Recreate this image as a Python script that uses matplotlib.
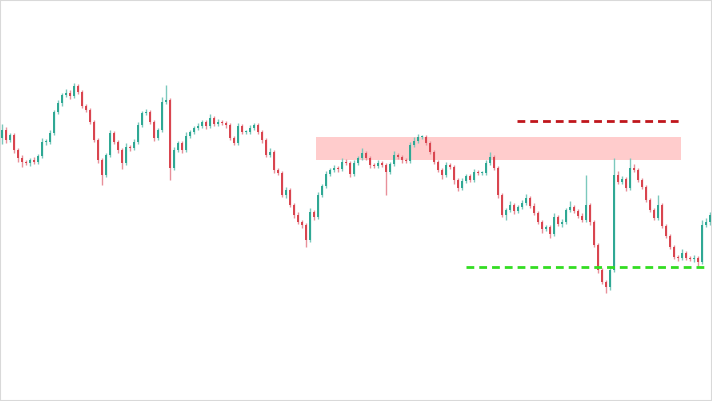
import matplotlib.pyplot as plt
import numpy as np

# closing prices, one candle every ~4 px (price points)
closes = [
    270, 260, 265, 250, 242, 238, 237, 240, 238, 244, 258, 258,
    267, 288, 297, 305, 307, 304, 314, 308, 294, 290, 278, 260,
    240, 225, 245, 267, 258, 250, 237, 253, 252, 258, 275, 287,
    288, 278, 262, 270, 298, 300, 232, 250, 257, 250, 264, 268,
    272, 274, 278, 274, 282, 276, 278, 277, 275, 262, 257, 274,
    268, 268, 272, 275, 268, 260, 245, 248, 230, 227, 205, 210,
    195, 185, 178, 175, 160, 188, 183, 205, 214, 226, 230, 232,
    231, 238, 237, 226, 237, 242, 247, 242, 235, 234, 237, 235,
    228, 236, 245, 243, 240, 239, 255, 259, 263, 263, 257, 248,
    238, 230, 225, 235, 233, 220, 212, 219, 224, 220, 228, 227,
    227, 237, 243, 232, 205, 185, 190, 195, 189, 193, 197, 202,
    194, 187, 178, 171, 173, 166, 183, 176, 178, 190, 193, 189,
    184, 180, 195, 178, 155, 130, 118, 113, 130, 225, 218, 221,
    212, 232, 230, 220, 213, 200, 190, 182, 195, 174, 164, 153,
    143, 142, 147, 142, 141, 142, 138, 175, 178, 185,
]
first_open = 262

# wick lengths beyond the candle body
upper_wick = [
    6, 3, 2, 2, 2, 3, 2, 2, 3, 2, 4, 3,
    3, 2, 3, 2, 4, 3, 3, 2, 2, 2, 2, 2,
    2, 2, 2, 3, 2, 2, 2, 4, 2, 3, 3, 2,
    3, 2, 2, 2, 5, 15, 2, 3, 2, 2, 4, 2,
    2, 3, 2, 2, 4, 2, 3, 2, 2, 2, 2, 3,
    2, 2, 3, 2, 2, 2, 2, 4, 2, 2, 2, 3,
    2, 2, 3, 2, 2, 4, 2, 3, 2, 3, 2, 3,
    2, 4, 3, 2, 3, 2, 5, 2, 2, 2, 3, 2,
    2, 2, 4, 2, 2, 2, 3, 4, 3, 2, 2, 2,
    2, 2, 2, 3, 2, 2, 2, 3, 2, 2, 3, 2,
    2, 3, 5, 2, 2, 2, 2, 4, 2, 2, 3, 4,
    2, 3, 2, 2, 2, 2, 4, 2, 3, 2, 6, 2,
    2, 3, 30, 2, 2, 2, 2, 2, 3, 17, 4, 3,
    2, 10, 4, 2, 2, 2, 2, 2, 10, 2, 2, 2,
    2, 2, 4, 2, 2, 3, 2, 5, 4, 3,
]
lower_wick = [
    6, 3, 2, 3, 4, 5, 2, 3, 2, 2, 2, 3,
    2, 2, 2, 3, 2, 3, 2, 2, 2, 2, 2, 2,
    3, 10, 2, 2, 2, 3, 6, 2, 3, 2, 2, 2,
    2, 2, 3, 2, 2, 2, 12, 2, 2, 3, 2, 2,
    2, 2, 2, 3, 2, 2, 2, 2, 3, 2, 2, 2,
    2, 2, 2, 2, 2, 3, 2, 2, 3, 2, 2, 3,
    2, 3, 2, 3, 7, 2, 3, 2, 2, 2, 2, 2,
    3, 2, 2, 3, 2, 2, 2, 2, 3, 2, 2, 2,
    23, 2, 2, 2, 3, 2, 2, 2, 2, 2, 2, 2,
    2, 2, 4, 2, 2, 4, 3, 2, 2, 2, 2, 2,
    2, 2, 2, 2, 3, 2, 5, 2, 3, 2, 2, 2,
    2, 2, 2, 4, 2, 4, 2, 2, 3, 2, 2, 2,
    2, 2, 2, 3, 2, 3, 2, 6, 3, 2, 2, 2,
    3, 2, 2, 2, 2, 2, 2, 2, 2, 2, 2, 2,
    2, 3, 2, 2, 2, 3, 4, 2, 2, 3,
]

# levels drawn on the chart
zone_low, zone_high = 240, 263
zone_start, zone_end = 78.5, 169.8
resistance, res_start, res_end = 279, 128.8, 169.6
support, sup_start, sup_end = 133, 116.0, 175.8

closes = np.array(closes, dtype=float)
opens = np.concatenate([[first_open], closes[:-1]])
highs = np.maximum(opens, closes) + np.array(upper_wick)
lows = np.minimum(opens, closes) - np.array(lower_wick)
n = len(closes)
idx = np.arange(n)

fig = plt.figure(figsize=(7.12, 4.01), dpi=100)
ax = fig.add_axes([0, 0, 1, 1])

up = closes >= opens
col = np.where(up, '#2fa894', '#d9454f')
wick_col = np.where(up, '#7cc9bd', '#e8909a')

ax.vlines(idx, lows, highs, colors=wick_col, linewidth=1.0, zorder=2)
body_h = np.abs(closes - opens)
body_h = np.maximum(body_h, 1.5)
ax.bar(idx, body_h, bottom=np.minimum(opens, closes), width=0.55,
       color=col, edgecolor='none', zorder=3)

ax.fill_between([zone_start, zone_end], zone_low, zone_high,
                color='#ffcccc', linewidth=0, zorder=1)
ax.plot([res_start, res_end], [resistance, resistance], color='#c0161c',
        linewidth=2.0, dashes=(2.8, 1.8), zorder=4)
ax.plot([sup_start, sup_end], [support, support], color='#33dd22',
        linewidth=2.0, dashes=(2.8, 1.8), zorder=4)

ax.set_xlim(-0.5, n - 0.5)
ax.set_ylim(-1, 400)
ax.set_xticks([])
ax.set_yticks([])
for s in ax.spines.values():
    s.set_color('#d9d9d9')
    s.set_linewidth(1.5)

fig.savefig('out.png', dpi=100)
